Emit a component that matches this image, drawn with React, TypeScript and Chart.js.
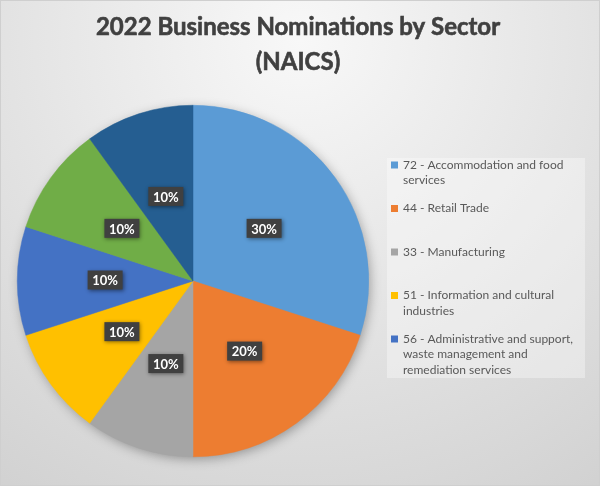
import React, { useEffect, useRef } from "react";
import { Chart, registerables } from "chart.js";

Chart.register(...registerables);

const titleLines = ["2022 Business Nominations by Sector", "(NAICS)"];
const categories = [
  "72 - Accommodation and food services",
  "44 - Retail Trade",
  "33 - Manufacturing",
  "51 - Information and cultural industries",
  "56 - Administrative and support, waste management and remediation services",
  "54 - Professional, scientific and technical services",
  "81 - Other services (except public administration)",
];
const legendLines = [
  ["72 - Accommodation and food", "services"],
  ["44 - Retail Trade"],
  ["33 - Manufacturing"],
  ["51 - Information and cultural", "industries"],
  ["56 - Administrative and support,", "waste management and", "remediation services"],
];
const values = [30, 20, 10, 10, 10, 10, 10];
const colors = ["#5B9BD5", "#ED7D31", "#A5A5A5", "#FFC000", "#4472C4", "#70AD47", "#255E91"];

const FONT = "Lato, 'Open Sans', sans-serif";

const backgroundPlugin = {
  id: "bg",
  beforeDraw(chart: any) {
    const { ctx, width, height } = chart;
    ctx.save();
    const g = ctx.createRadialGradient(300, 40, 0, 300, 40, 600);
    g.addColorStop(0, "#f8f8f8");
    g.addColorStop(1, "#cdcdcd");
    ctx.fillStyle = g;
    ctx.fillRect(0, 0, width, height);
    ctx.strokeStyle = "#cfcfcf";
    ctx.lineWidth = 1;
    ctx.strokeRect(0.5, 0.5, width - 1, height - 1);
    ctx.restore();
  },
};

const titlePlugin = {
  id: "customTitle",
  afterDraw(chart: any) {
    const { ctx } = chart;
    ctx.save();
    ctx.fillStyle = "#404040";
    ctx.font = `bold 24px ${FONT}`;
    ctx.textAlign = "center";
    ctx.textBaseline = "alphabetic";
    ctx.strokeStyle = "#404040";
    ctx.lineWidth = 0.6;
    titleLines.forEach((t, i) => {
      ctx.fillText(t, 298, 35 + i * 35);
      ctx.strokeText(t, 298, 35 + i * 35);
    });
    ctx.restore();
  },
};

const shadowPlugin = {
  id: "pieShadow",
  beforeDatasetsDraw(chart: any) {
    const meta = chart.getDatasetMeta(0);
    const arc = meta.data[0];
    if (!arc) return;
    const { ctx } = chart;
    ctx.save();
    ctx.shadowColor = "rgba(0,0,0,0.35)";
    ctx.shadowBlur = 12;
    ctx.shadowOffsetX = 2;
    ctx.shadowOffsetY = 3;
    ctx.fillStyle = "#999";
    ctx.beginPath();
    ctx.arc(arc.x, arc.y, arc.outerRadius - 1, 0, Math.PI * 2);
    ctx.fill();
    ctx.restore();
  },
};

const labelPlugin = {
  id: "pctLabels",
  afterDatasetsDraw(chart: any) {
    const { ctx } = chart;
    const meta = chart.getDatasetMeta(0);
    const data = chart.data.datasets[0].data as number[];
    const total = data.reduce((a, b) => a + b, 0);
    meta.data.forEach((arc: any, i: number) => {
      const p = arc.tooltipPosition(false);
      const text = `${Math.round((data[i] / total) * 100)}%`;
      const w = 35;
      const h = 19;
      ctx.save();
      ctx.shadowColor = "rgba(0,0,0,0.45)";
      ctx.shadowBlur = 4;
      ctx.shadowOffsetX = 1;
      ctx.shadowOffsetY = 1;
      ctx.fillStyle = "#404040";
      ctx.fillRect(p.x - w / 2, p.y - h / 2 - 1, w, h);
      ctx.restore();
      ctx.save();
      ctx.fillStyle = "#ffffff";
      ctx.font = `bold 13px ${FONT}`;
      ctx.textAlign = "center";
      ctx.textBaseline = "middle";
      ctx.fillText(text, p.x, p.y);
      ctx.restore();
    });
  },
};

const legendPlugin = {
  id: "customLegend",
  afterDraw(chart: any) {
    const { ctx } = chart;
    ctx.save();
    ctx.fillStyle = "rgba(255,255,255,0.35)";
    ctx.fillRect(387, 158, 198, 220);
    ctx.font = `12px ${FONT}`;
    ctx.textBaseline = "middle";
    ctx.textAlign = "left";
    legendLines.forEach((lines, i) => {
      const y0 = 165 + i * 43.5;
      ctx.fillStyle = colors[i];
      ctx.fillRect(391, y0 - 3.5, 7, 7);
      ctx.fillStyle = "#595959";
      lines.forEach((ln, j) => ctx.fillText(ln, 403, y0 + j * 15.5));
    });
    ctx.restore();
  },
};

export default function App() {
  const ref = useRef<HTMLCanvasElement>(null);
  useEffect(() => {
    if (!ref.current) return;
    const chart = new Chart(ref.current, {
      type: "pie",
      data: {
        labels: categories,
        datasets: [
          {
            data: values,
            backgroundColor: colors,
            borderColor: colors,
            borderWidth: 0.5,
          },
        ],
      },
      options: {
        animation: false,
        responsive: false,
        maintainAspectRatio: false,
        layout: { padding: { left: 17, top: 105, right: 231, bottom: 29 } },
        plugins: {
          legend: { display: false },
          title: { display: false },
          tooltip: { enabled: false },
        },
      },
      plugins: [backgroundPlugin, shadowPlugin, labelPlugin, titlePlugin, legendPlugin],
    });
    return () => chart.destroy();
  }, []);
  return (
    <div style={{ position: "fixed", left: 0, top: 0, width: 600, height: 486 }}>
      <canvas ref={ref} width={600} height={486} style={{ width: 600, height: 486, display: "block" }} />
    </div>
  );
}
